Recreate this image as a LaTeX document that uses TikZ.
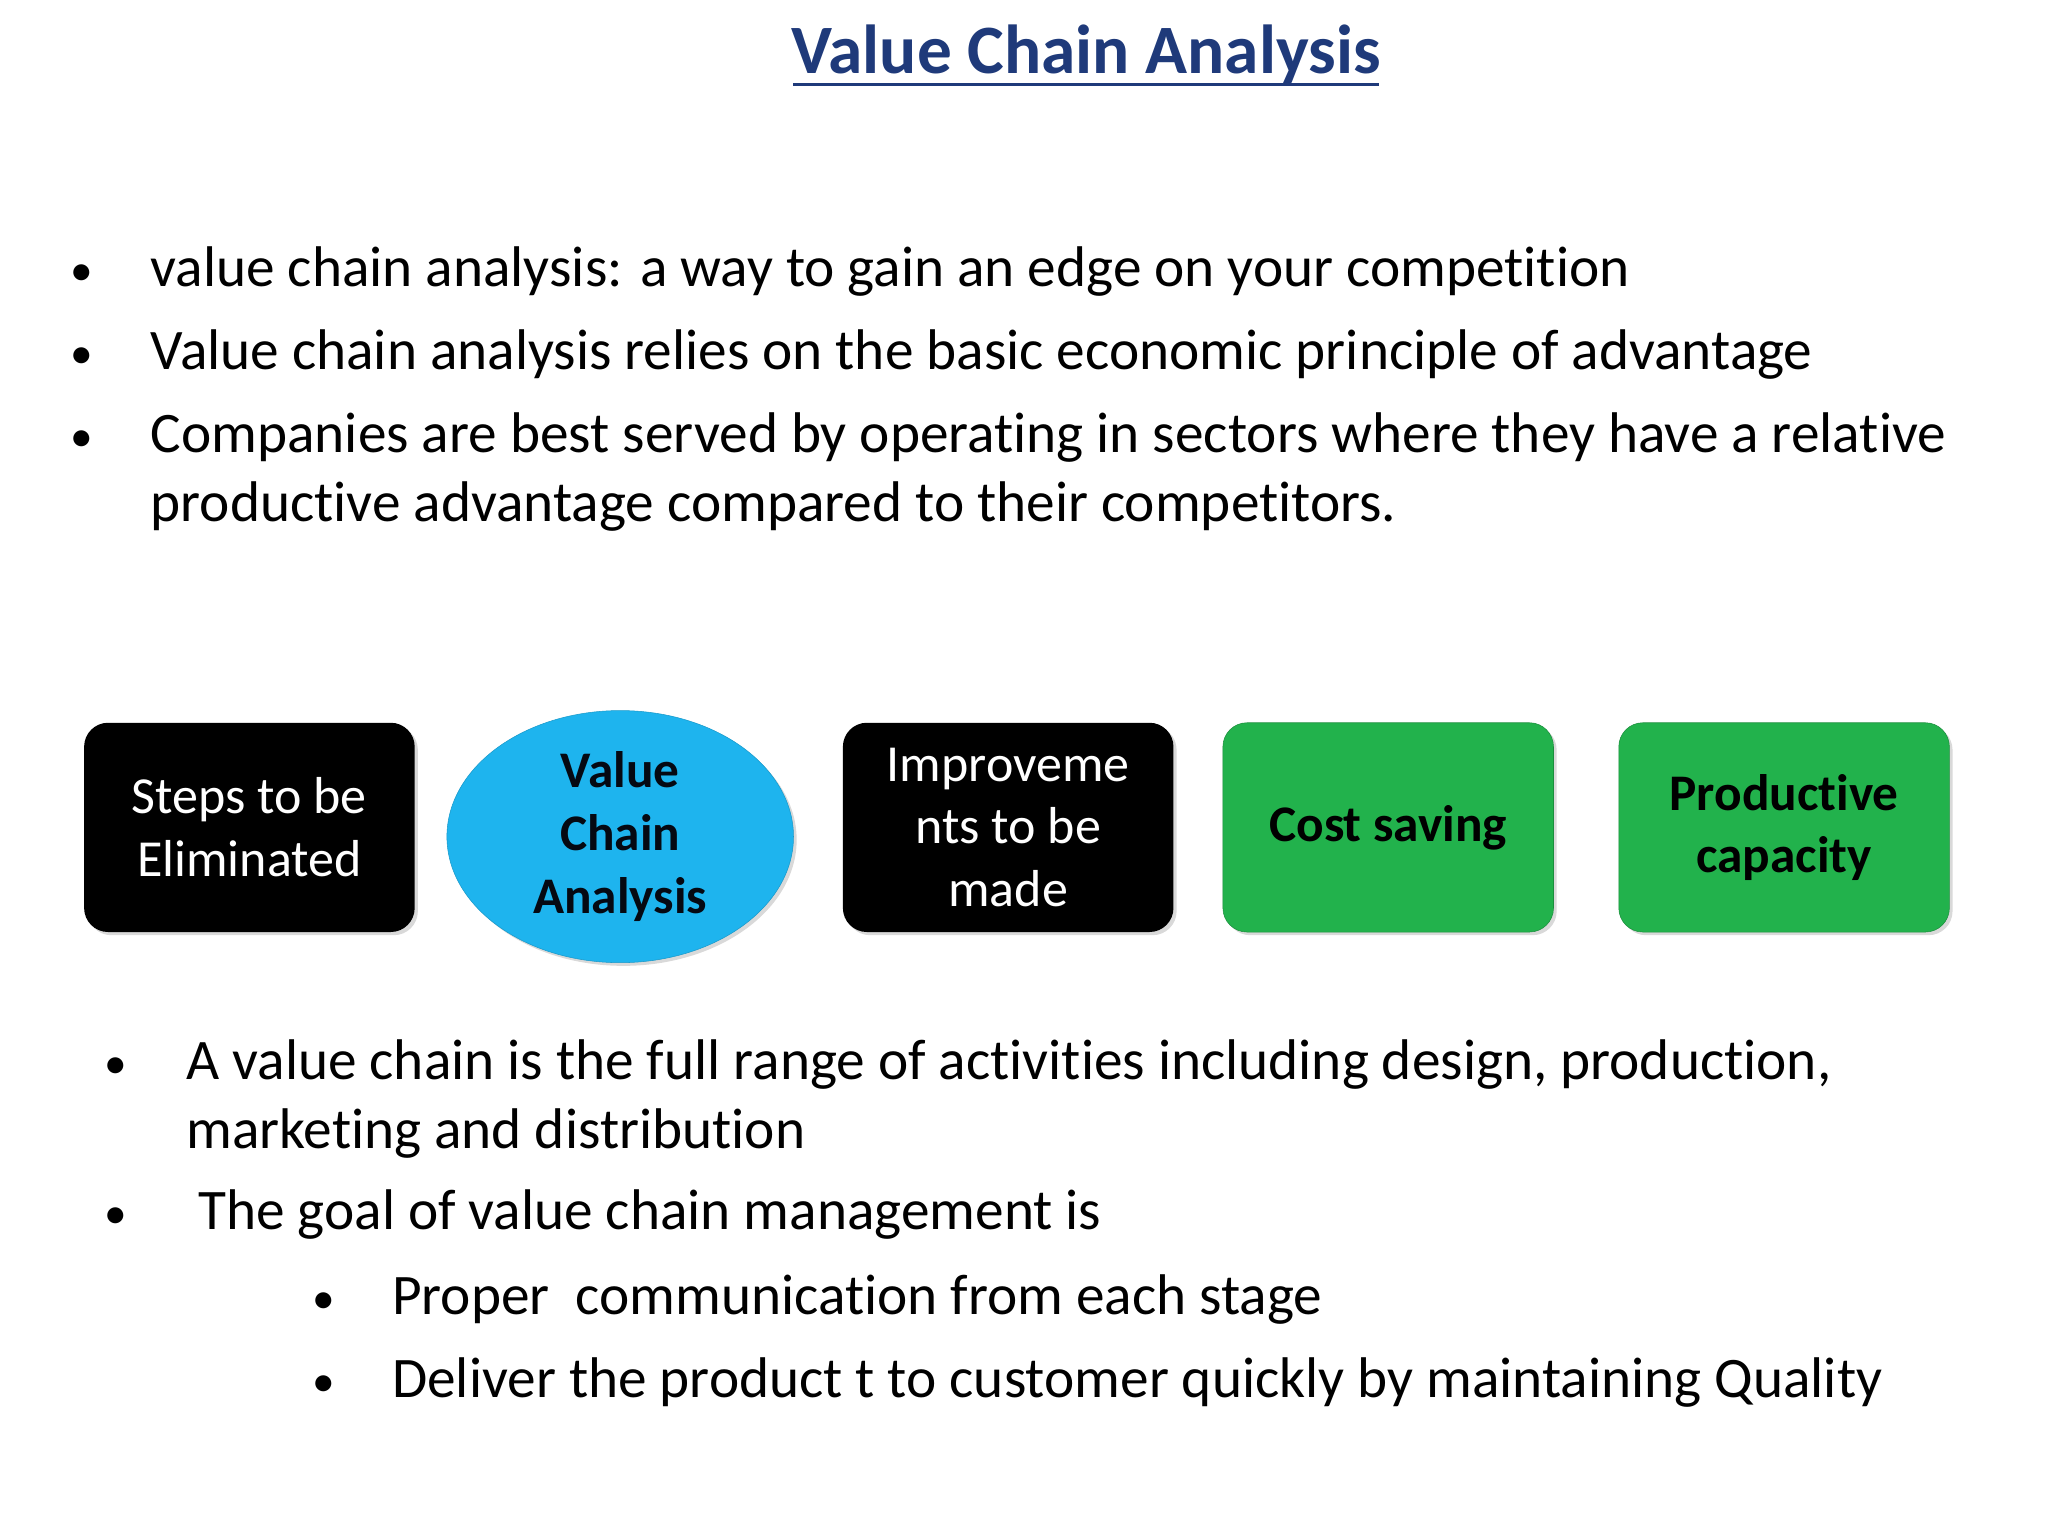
\documentclass[tikz,border=0pt]{standalone}
\usepackage{fontspec}
\setmainfont[Ligatures=NoCommon]{Carlito}
\usetikzlibrary{shapes.geometric,shadows}
\definecolor{navy}{HTML}{1F3A7A}
\definecolor{cyanb}{HTML}{1EB4EE}
\definecolor{greenb}{HTML}{22B24C}
\tikzset{
 txt/.style={anchor=base west,inner sep=0pt,font=\fontsize{43}{50}\selectfont},
 bul/.style={anchor=base,inner sep=0pt,font=\fontsize{34}{40}\selectfont},
 blk/.style={rounded corners=18pt,fill=black,minimum width=248pt,minimum height=157pt,text=white,align=center,font=\fontsize{39}{47}\selectfont,drop shadow={opacity=0.3}},
 grn/.style={rounded corners=18pt,fill=greenb,draw=greenb!80!black,minimum width=248pt,minimum height=157pt,text=black,align=center,font=\bfseries\fontsize{38.5}{47}\selectfont,drop shadow={opacity=0.3}},
}
\begin{document}
\begin{tikzpicture}[x=0.99pt,y=-0.99pt]
\useasboundingbox (0,0) rectangle (1552,1164);
\node[anchor=base,inner sep=0pt,text=navy,font=\bfseries\fontsize{52}{58}\selectfont] (title) at (823,56) {Value Chain Analysis};
\draw[navy,line width=2.5pt] (601,64) -- (1045,64);
\node[bul] (b1) at (62,216) {•};
\node[txt] (t1) at (114,217) {value chain analysis: a way to gain an edge on your competition};
\node[bul] (b2) at (62,279) {•};
\node[txt] (t2) at (114,280) {Value chain analysis relies on the basic economic principle of advantage};
\node[bul] (b3) at (62,342) {•};
\node[txt] (t3) at (114,343) {Companies are best served by operating in sectors where they have a relative};
\node[txt] (t4) at (114,395) {productive advantage compared to their competitors.};
\node[blk] (n1) at (189,627) {Steps to be\\Eliminated};
\node[ellipse,fill=cyanb,draw=cyanb!85!black,minimum width=260pt,minimum height=166pt,align=center,font=\bfseries\fontsize{38.5}{47}\selectfont,text=black!85!navy,drop shadow={opacity=0.3}] (n2) at (470,634) {Value\\Chain\\Analysis};
\node[blk] (n3) at (764,627) {Improveme\\nts to be\\made};
\node[grn] (n4) at (1052,627) {Cost saving};
\node[grn] (n5) at (1352,627) {Productive\\capacity};
\node[bul] (b4) at (88,817) {•};
\node[txt] (t5) at (141,818) {A value chain is the full range of activities including design, production,};
\node[txt] (t6) at (141,870) {marketing and distribution};
\node[bul] (b5) at (88,931) {•};
\node[txt] (t7) at (150,932) {The goal of value chain management is};
\node[bul] (b6) at (245,995) {•};
\node[txt] (t8) at (297,996) {Proper\ \ communication from each stage};
\node[bul] (b7) at (245,1058) {•};
\node[txt] (t9) at (297,1059) {Deliver the product t to customer quickly by maintaining Quality};
\end{tikzpicture}
\end{document}
